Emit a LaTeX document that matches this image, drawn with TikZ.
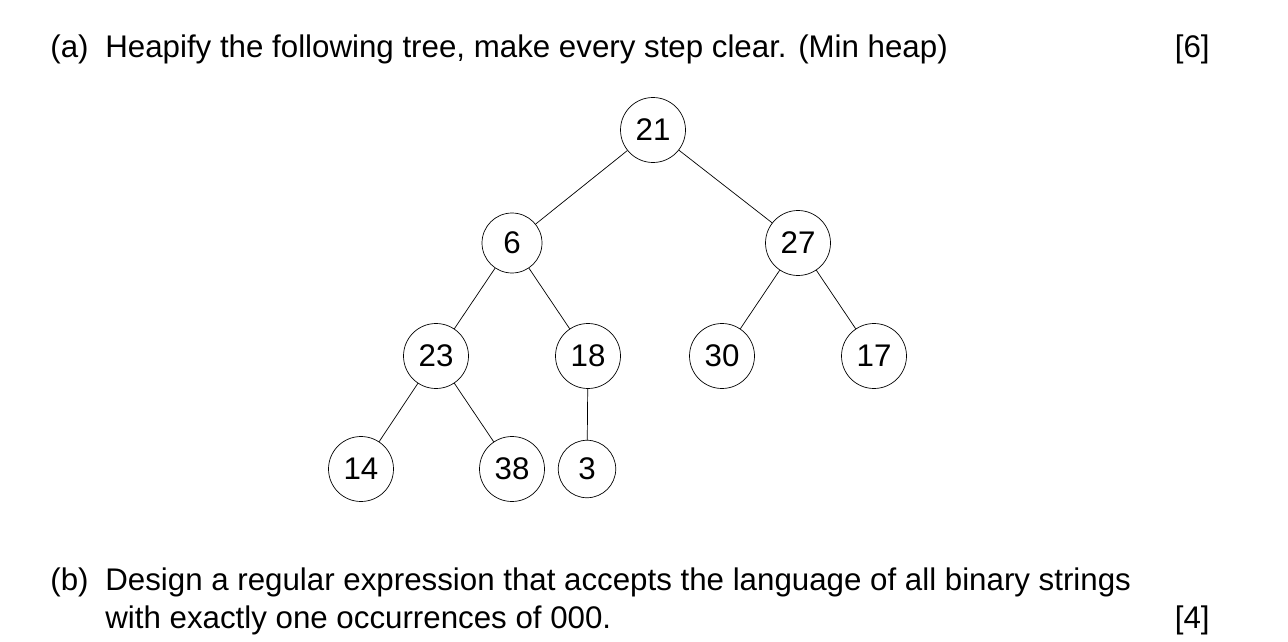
\documentclass[tikz,border=0pt]{standalone}
\usepackage{fontspec}
\setmainfont{Liberation Sans}
\usetikzlibrary{positioning}
\tikzset{
heap/.style={
    x=0.02cm,
    y=-0.02cm,
    font=\fontsize{17.8}{21}\selectfont
},
key/.style={
    circle,
    draw,
    thin,
    minimum size=1.3cm,
    inner sep=0pt
},
txt/.style={
    anchor=base west,
    inner sep=0pt
},
points/.style={
    anchor=base east,
    inner sep=0pt
}}

\begin{document}
\begin{tikzpicture}[heap]
\useasboundingbox (0,0) rectangle (1288,642);
\node[txt]    (qa)  at (50,58)   {(a)};
\node[txt]    (ta)  at (105,58)  {Heapify the following tree, make every step clear. (Min heap)};
\node[points] (ma)  at (1210,58) {[6]};

\node[key] (n21) at (653,130) {21};
\node[key, minimum size=1.2cm] (n6)  at (512,243) {6};
\node[key] (n27) at (798,243) {27};
\node[key] (n23) at (436,356) {23};
\node[key] (n18) at (588,356) {18};
\node[key] (n30) at (722,356) {30};
\node[key] (n17) at (874,356) {17};
\node[key] (n14) at (361,469) {14};
\node[key] (n38) at (512,469) {38};
\node[key, minimum size=1.15cm] (n3)  at (587,469) {3};

\draw (n21) -- (n6);
\draw (n21) -- (n27);
\draw (n6)  -- (n23);
\draw (n6)  -- (n18);
\draw (n27) -- (n30);
\draw (n27) -- (n17);
\draw (n23) -- (n14);
\draw (n23) -- (n38);
\draw (n18) -- (n3);

\node[txt]    (qb)  at (50,590)   {(b)};
\node[txt]    (tb1) at (105,590)  {Design a regular expression that accepts the language of all binary strings};
\node[txt]    (tb2) at (105,628)  {with exactly one occurrences of 000.};
\node[points] (mb)  at (1210,628) {[4]};
\end{tikzpicture}
\end{document}
